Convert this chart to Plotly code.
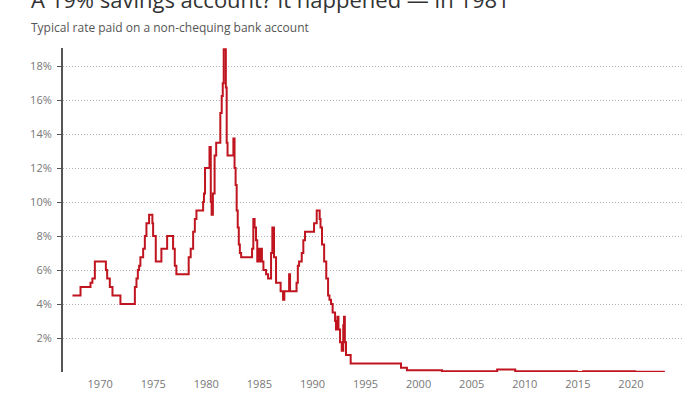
import plotly.graph_objects as go

# Decimal-year dates where the rate changes (step function)
dates = [
    1967.39, 1968.15, 1969.09, 1969.27, 1969.50, 1970.54, 1970.66, 1970.91, 1971.16, 1971.29,
    1971.91, 1973.27, 1973.42, 1973.55, 1973.67, 1973.79, 1974.05, 1974.21, 1974.36, 1974.61,
    1974.92, 1974.99, 1975.24, 1975.77, 1976.31, 1976.87, 1977.03, 1977.18, 1977.44, 1978.34,
    1978.53, 1978.76, 1978.92, 1979.07, 1979.70, 1979.78, 1979.88, 1980.30, 1980.42, 1980.50,
    1980.62, 1980.78, 1980.93, 1981.08, 1981.32, 1981.45, 1981.55, 1981.64, 1981.84, 1981.92,
    1982.00, 1982.55, 1982.66, 1982.76, 1982.86, 1982.96, 1983.06, 1983.16, 1983.28, 1984.31,
    1984.43, 1984.55, 1984.68, 1984.80, 1984.92, 1985.03, 1985.16, 1985.24, 1985.38, 1985.63,
    1985.82, 1986.10, 1986.22, 1986.38, 1986.57, 1987.00, 1987.23, 1987.35, 1987.80, 1987.89,
    1988.50, 1988.62, 1988.74, 1988.99, 1989.14, 1989.30, 1990.15, 1990.40, 1990.68, 1990.76,
    1990.90, 1991.10, 1991.30, 1991.47, 1991.60, 1991.75, 1991.90, 1992.13, 1992.22, 1992.35,
    1992.45, 1992.60, 1992.76, 1992.90, 1992.97, 1993.05, 1993.16, 1993.60, 1998.34, 1998.90,
    2002.20, 2007.40, 2009.10, 2014.90, 2015.50, 2020.40, 2023.20,
]

# Typical non-chequing savings rate (%)
rates = [
    4.5, 5.0, 5.25, 5.5, 6.5, 6.0, 5.5, 5.0, 4.5, 4.5,
    4.0, 5.0, 5.5, 6.0, 6.25, 6.75, 7.25, 8.0, 8.75, 9.25,
    8.75, 8.0, 6.5, 7.25, 8.0, 7.25, 6.25, 5.75, 5.75, 6.75,
    7.25, 8.25, 9.0, 9.5, 10.0, 10.5, 12.0, 13.25, 10.0, 9.25,
    10.5, 12.75, 13.5, 13.5, 15.25, 16.25, 17.0, 19.0, 16.75, 13.5,
    12.75, 13.75, 12.0, 11.0, 9.5, 8.5, 7.5, 7.0, 6.75, 7.25,
    9.0, 8.5, 7.75, 6.5, 7.25, 6.5, 7.25, 6.5, 6.0, 5.75,
    5.5, 7.0, 8.5, 6.75, 5.25, 4.75, 4.25, 4.75, 5.75, 4.75,
    5.25, 6.25, 6.5, 7.0, 7.75, 8.25, 8.75, 9.5, 9.0, 8.5,
    7.5, 6.5, 5.5, 4.5, 4.25, 4.0, 3.5, 3.0, 2.5, 3.25,
    2.5, 1.75, 1.25, 2.75, 3.25, 1.75, 1.0, 0.5, 0.25, 0.1,
    0.05, 0.15, 0.05, 0.0, 0.05, 0.02, 0.02,
]

x_ticks = [1970, 1975, 1980, 1985, 1990, 1995, 2000, 2005, 2010, 2015, 2020]
y_ticks = [2, 4, 6, 8, 10, 12, 14, 16, 18]

title_text = "A 19% savings account? It happened \u2014 in 1981"
subtitle_text = "Typical rate paid on a non-chequing bank account"

FONT = "Open Sans"

fig = go.Figure()
fig.add_trace(go.Scatter(
    x=dates, y=rates, mode="lines", line_shape="hv",
    line=dict(color="#c0151f", width=2), hoverinfo="skip", showlegend=False,
))

fig.update_layout(
    width=700, height=394,
    margin=dict(l=63, r=16, t=48, b=22),
    plot_bgcolor="white", paper_bgcolor="white",
    font=dict(family=FONT, color="#777", size=11),
    xaxis=dict(
        range=[1966.5, 2025.0], tickmode="array", tickvals=x_ticks,
        ticktext=[str(v) for v in x_ticks], showgrid=False, zeroline=False,
        showline=False, ticks="", ticklabelstandoff=4, automargin=False,
        tickfont=dict(size=11, color="#777"),
    ),
    yaxis=dict(
        range=[0, 19.07], tickmode="array", tickvals=y_ticks,
        ticktext=[f"{v}%" for v in y_ticks], showgrid=True,
        gridcolor="#b0b0b0", griddash="1px,2px", gridwidth=1, zeroline=False,
        showline=True, linecolor="#555", linewidth=2, automargin=False,
        ticks="outside", ticklen=4, tickcolor="#555", tickwidth=1,
        ticklabelstandoff=3, tickfont=dict(size=11, color="#777"),
    ),
    annotations=[
        dict(text=title_text, xref="paper", yref="paper", x=-0.0548, y=1.099,
             xanchor="left", yanchor="bottom", showarrow=False,
             font=dict(family=FONT, size=22, color="#333")),
        dict(text=subtitle_text, xref="paper", yref="paper", x=-0.0548, y=1.062,
             xanchor="left", yanchor="middle", showarrow=False,
             font=dict(family=FONT, size=12, color="#555")),
    ],
)

fig.write_html(
    "out.html",
    config={"displayModeBar": False},
    post_script="document.body.style.margin='0';document.body.style.overflow='hidden';",
)
